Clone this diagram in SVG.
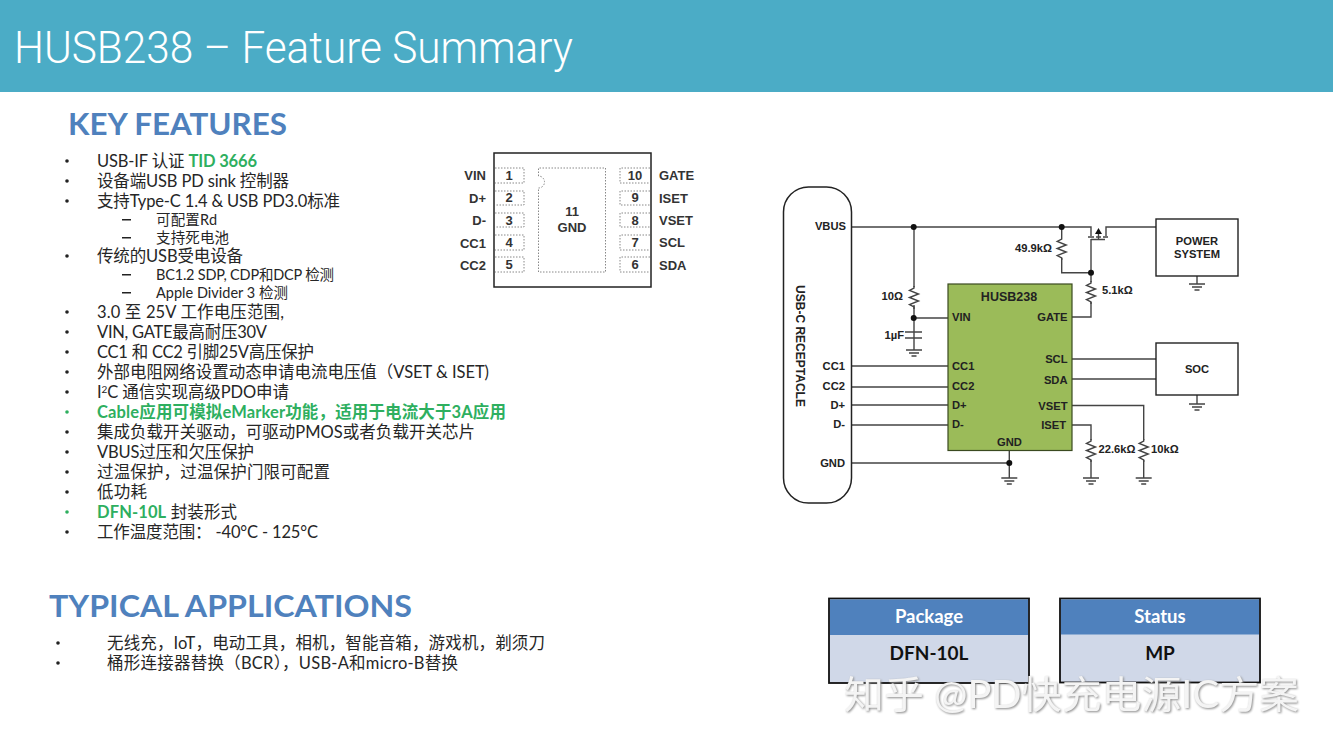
<svg xmlns="http://www.w3.org/2000/svg" width="1333" height="750" viewBox="0 0 1333 750">
<style>
text{font-family:Lato,"Noto Sans CJK SC","Noto Sans",sans-serif}
.t{font-size:16.5px;fill:#262626}
.s{font-size:14.5px;fill:#262626}
.g{fill:#2eaf5f;font-weight:700}
.h{font-size:31px;font-weight:700;fill:#4f81bd}
text.a,.a text{font-family:"Liberation Sans",sans-serif;font-weight:700;font-size:11.2px;fill:#222}
text.p,.p text{font-family:"Liberation Sans",sans-serif;font-weight:700;font-size:13px;fill:#333}
.m,.m text{text-anchor:middle}
.e,.e text{text-anchor:end}
.w{fill:none;stroke:#444;stroke-width:1.4}
.box{fill:#fff;stroke:#222;stroke-width:1.4}
.dot{fill:#111}
.pad{fill:none;stroke:#888;stroke-width:1;stroke-dasharray:1.5 1.5}
.tb{font-size:18.5px;fill:#fff;font-weight:700}
.tv{font-size:19px;fill:#111;font-weight:700}
</style>
<defs>
<path id="res" class="w" d="M0 0l0 2 -4.500 2.500 9 3.500 -9 3.500 9 3.500 -9 3.500 4.500 2.500 0 2"/>
<g id="gnd"><path class="w" d="M-8 0H8M-5 3H5M-2.500 6H2.500"/></g>
</defs>
<rect width="1333" height="750" fill="#fff"/>
<rect id="header" width="1333" height="92" fill="#4bacc6"/>
<text x="14" y="63" font-size="44" fill="#fff" font-weight="300" style="font-family:Roboto,sans-serif" textLength="559" lengthAdjust="spacingAndGlyphs">HUSB238 – Feature Summary</text>

<text class="h" x="68" y="135" textLength="219" lengthAdjust="spacingAndGlyphs">KEY FEATURES</text>
<g id="features">
<g fill="#222"><circle cx="67" cy="161" r="1.800"/><circle cx="67" cy="181" r="1.800"/><circle cx="67" cy="201" r="1.800"/><circle cx="67" cy="256" r="1.800"/><circle cx="67" cy="312" r="1.800"/><circle cx="67" cy="332" r="1.800"/><circle cx="67" cy="352" r="1.800"/><circle cx="67" cy="372" r="1.800"/><circle cx="67" cy="392" r="1.800"/><circle cx="67" cy="432" r="1.800"/><circle cx="67" cy="452" r="1.800"/><circle cx="67" cy="472" r="1.800"/><circle cx="67" cy="492" r="1.800"/><circle cx="67" cy="532" r="1.800"/></g>
<g fill="#2eaf5f"><circle cx="67" cy="412" r="1.800"/><circle cx="67" cy="512" r="1.800"/></g>
<g fill="#222"><rect x="122" y="219" width="9" height="1.500"/><rect x="122" y="237" width="9" height="1.500"/><rect x="122" y="274" width="9" height="1.500"/><rect x="122" y="292" width="9" height="1.500"/></g>
<text class="t" x="97" y="167" textLength="160">USB-IF 认证 <tspan class="g">TID 3666</tspan></text>
<text class="t" x="97" y="187" textLength="192">设备端USB PD sink 控制器</text>
<text class="t" x="97" y="207" textLength="243">支持Type-C 1.4 &amp; USB PD3.0标准</text>
<text class="s" x="156" y="225" textLength="61">可配置Rd</text>
<text class="s" x="156" y="243" textLength="73">支持死电池</text>
<text class="t" x="97" y="262" textLength="146">传统的USB受电设备</text>
<text class="s" x="156" y="280" textLength="178">BC1.2 SDP, CDP和DCP 检测</text>
<text class="s" x="156" y="298" textLength="132">Apple Divider 3 检测</text>
<text class="t" x="97" y="318" textLength="187">3.0 至 25V 工作电压范围,</text>
<text class="t" x="97" y="338" textLength="170">VIN, GATE最高耐压30V</text>
<text class="t" x="97" y="358" textLength="217">CC1 和 CC2 引脚25V高压保护</text>
<text class="t" x="97" y="378" textLength="392">外部电阻网络设置动态申请电流电压值（VSET &amp; ISET)</text>
<text class="t" x="97" y="398" textLength="192">I<tspan font-size="10" dy="-5">2</tspan><tspan dy="5">C 通信实现高级PDO申请</tspan></text>
<text class="t g" x="97" y="418" textLength="409">Cable应用可模拟eMarker功能，适用于电流大于3A应用</text>
<text class="t" x="97" y="438" textLength="378">集成负载开关驱动，可驱动PMOS或者负载开关芯片</text>
<text class="t" x="97" y="458" textLength="157">VBUS过压和欠压保护</text>
<text class="t" x="97" y="478" textLength="233">过温保护，过温保护门限可配置</text>
<text class="t" x="97" y="498" textLength="50">低功耗</text>
<text class="t" x="97" y="518" textLength="140"><tspan class="g">DFN-10L</tspan> 封装形式</text>
<text class="t" x="97" y="538" textLength="221">工作温度范围： -40°C - 125°C</text>
</g>

<text class="h" x="49" y="617" textLength="363" lengthAdjust="spacingAndGlyphs">TYPICAL APPLICATIONS</text>
<g id="applications">
<circle cx="58" cy="643" r="1.800" fill="#222"/><circle cx="58" cy="663" r="1.800" fill="#222"/>
<text class="t" x="107" y="649" textLength="438">无线充，IoT，电动工具，相机，智能音箱，游戏机，剃须刀</text>
<text class="t" x="107" y="669" textLength="351">桶形连接器替换（BCR），USB-A和micro-B替换</text>
</g>

<g id="package-pinout">
<rect x="494" y="153" width="157" height="134" fill="#fff" stroke="#222" stroke-width="1.500"/>
<path class="pad" d="M495 168H524V183H495M495 191H524V205H495M495 213H524V227H495M495 235H524V250H495M495 257H524V272H495"/>
<path class="pad" d="M650 168H620V183H650M650 191H620V205H650M650 213H620V227H650M650 235H620V250H650M650 257H620V272H650"/>
<path class="pad" d="M538.500 176V168H605.500V272H538.500V188A6 6 0 0 0 538.500 176"/>
<g class="p m"><text x="509" y="180">1</text><text x="509" y="202">2</text><text x="509" y="225">3</text><text x="509" y="247">4</text><text x="509" y="269">5</text><text x="635" y="180">10</text><text x="635" y="202">9</text><text x="635" y="225">8</text><text x="635" y="247">7</text><text x="635" y="269">6</text><text x="572" y="216">11</text><text x="572" y="232">GND</text></g>
<g class="p e"><text x="486" y="180">VIN</text><text x="486" y="203">D+</text><text x="486" y="225">D-</text><text x="486" y="248">CC1</text><text x="486" y="270">CC2</text></g>
<g class="p"><text x="659" y="180">GATE</text><text x="659" y="203">ISET</text><text x="659" y="225">VSET</text><text x="659" y="247">SCL</text><text x="659" y="270">SDA</text></g>
</g>

<g id="connectors">
<path class="w" d="M851.500 227H1091V236M1106 236V227H1156"/>
<path class="w" d="M1088 237H1094M1096 237H1101M1103 237H1108M1091 239.500H1105"/>
<path class="w" d="M914 227V287M914 305V350"/>
<path class="w" d="M914 318H948"/>
<path class="w" d="M1061.700 227V237M1061.700 258V272.700H1091M1091 239V282M1091 302V317H1072"/>
<path class="w" d="M1098.500 239V234"/>
<path class="w" d="M1072 359H1156M1072 379H1156"/>
<path class="w" d="M1072 405.500H1143.700V440M1143.700 460V478"/>
<path class="w" d="M1072 425H1091V440M1091 460V478"/>
<path class="w" d="M851.500 366H948M851.500 387H948M851.500 405H948M851.500 425H948"/>
<path class="w" d="M851.500 463H1009M1009.300 450V478"/>
<path class="w" d="M1197 276V284M1197 395V404"/>
<path class="w" d="M905 332H922M905 338H922"/>
<use href="#res" x="914" y="286"/><use href="#res" x="1061.700" y="237"/><use href="#res" x="1091" y="281"/><use href="#res" x="1091" y="439"/><use href="#res" x="1143.700" y="439"/>
<use href="#gnd" x="914" y="350"/><use href="#gnd" x="1009.300" y="478"/><use href="#gnd" x="1091" y="478"/><use href="#gnd" x="1143.700" y="478"/><use href="#gnd" x="1197" y="284"/><use href="#gnd" x="1197" y="404"/>
<path d="M1098.500 228l-3.500 6h7z" fill="#111"/>
<g class="dot"><circle cx="913.700" cy="227" r="3"/><circle cx="913.700" cy="318" r="3"/><circle cx="1061.700" cy="227" r="3"/><circle cx="1091" cy="272.700" r="3"/><circle cx="1009.300" cy="463" r="3"/></g>
</g>

<g id="usb-c">
<rect x="783.500" y="187" width="68" height="316" rx="25" fill="#fff" stroke="#222" stroke-width="1.500"/>
<text class="a m" transform="translate(796 346) rotate(90)" style="font-size:12px">USB-C RECEPTACLE</text>
<g class="a e"><text x="846" y="230">VBUS</text><text x="845" y="370">CC1</text><text x="845" y="390">CC2</text><text x="845" y="409">D+</text><text x="845" y="428">D-</text><text x="845" y="467">GND</text></g>
</g>

<g id="husb238">
<rect x="948" y="284" width="124" height="166.500" fill="#9bbb59" stroke="#3a4a20" stroke-width="1.200"/>
<text class="a m" x="1009" y="301" style="font-size:12.500px">HUSB238</text>
<g class="a"><text x="952" y="321">VIN</text><text x="952" y="370">CC1</text><text x="952" y="390">CC2</text><text x="952" y="409">D+</text><text x="952" y="428">D-</text></g>
<g class="a e"><text x="1067.500" y="321">GATE</text><text x="1067.500" y="363">SCL</text><text x="1067.500" y="384">SDA</text><text x="1067.500" y="410">VSET</text><text x="1066" y="429">ISET</text></g>
<text class="a m" x="1009.500" y="446">GND</text>
</g>

<g id="power-system"><rect class="box" x="1156" y="219" width="82" height="57"/><text class="a m" x="1197" y="245">POWER</text><text class="a m" x="1197" y="258">SYSTEM</text></g>
<g id="soc"><rect class="box" x="1156" y="343" width="82" height="52"/><text class="a m" x="1197" y="373">SOC</text></g>

<g id="values" class="a">
<text class="e" x="1052" y="252">49.9kΩ</text>
<text class="e" x="903" y="300">10Ω</text>
<text class="e" x="904" y="339">1µF</text>
<text x="1102" y="294">5.1kΩ</text>
<text x="1098.500" y="453">22.6kΩ</text>
<text x="1151" y="453">10kΩ</text>
</g>

<g id="package-table">
<rect x="829" y="598.500" width="200" height="84.500" fill="#d0d8e8" stroke="#111" stroke-width="1.800"/>
<rect x="830" y="599.500" width="198" height="35.500" fill="#4f81bd"/>
<text class="tb m" x="929" y="623">Package</text><text class="tv m" x="929" y="660">DFN-10L</text>
</g>
<g id="status-table">
<rect x="1060" y="598.500" width="200" height="84" fill="#d0d8e8" stroke="#111" stroke-width="1.800"/>
<rect x="1061" y="599.500" width="198" height="35" fill="#4f81bd"/>
<text class="tb m" x="1160" y="623">Status</text><text class="tv m" x="1160" y="660">MP</text>
</g>
<text x="844" y="708" font-size="38" fill="#f4f4f4" style="filter:drop-shadow(1.500px 1.500px 0.800px #8a8a8a)" textLength="455" lengthAdjust="spacingAndGlyphs">知乎 @PD快充电源IC方案</text>
</svg>
